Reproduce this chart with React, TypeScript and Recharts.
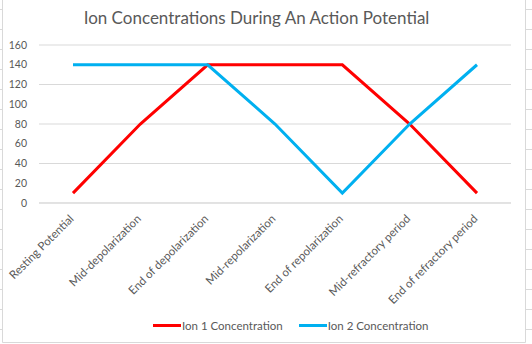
import { CartesianGrid, Legend, Line, LineChart, XAxis, YAxis } from "recharts";

const stages = [
  "Resting Potential",
  "Mid-depolarization",
  "End of depolarization",
  "Mid-repolarization",
  "End of repolarization",
  "Mid-refractory period",
  "End of refractory period",
];
const ion1 = [10, 80, 140, 140, 140, 80, 10];
const ion2 = [140, 140, 140, 80, 10, 80, 140];
const yTicks = [0, 20, 40, 60, 80, 100, 120, 140, 160];

const FONT = "Lato, 'Open Sans', sans-serif";
const TEXT = "#595959";
const RED = "#FF0000";
const BLUE = "#00B0F0";

const data = stages.map((s, i) => ({ stage: s, ion1: ion1[i], ion2: ion2[i] }));

function StageTick({ x, y, payload }: { x?: number; y?: number; payload?: { value: string } }) {
  return (
    <g transform={`translate(${x},${y})`}>
      <text
        x={0}
        y={0}
        dy={7}
        dx={-5}
        textAnchor="end"
        transform="rotate(-45)"
        fill={TEXT}
        fontSize={11.5}
        fontFamily={FONT}
      >
        {payload?.value}
      </text>
    </g>
  );
}

function LegendBox() {
  const item = (color: string, label: string, gap: number) => (
    <span style={{ display: "inline-flex", alignItems: "center", marginLeft: gap }}>
      <span style={{ display: "inline-block", width: 28, height: 3, background: color, marginRight: 1 }} />
      <span>{label}</span>
    </span>
  );
  return (
    <div
      style={{
        fontFamily: FONT,
        fontSize: 11.5,
        color: TEXT,
        paddingLeft: 144,
        lineHeight: "20px",
        whiteSpace: "nowrap",
      }}
    >
      {item(RED, "Ion 1 Concentration", 0)}
      {item(BLUE, "Ion 2 Concentration", 16)}
    </div>
  );
}

// spreadsheet cell edges visible around the chart object
function SheetEdges() {
  const rows = Array.from({ length: 17 }, (_, k) => 9.5 + 20 * k);
  return (
    <svg width={532} height={344} style={{ position: "absolute", left: 0, top: 0 }}>
      {rows.map((r) => (
        <g key={r} stroke="#d9d9d9">
          <line x1={0} x2={2.5} y1={r} y2={r} />
          <line x1={525.5} x2={532} y1={r} y2={r} />
        </g>
      ))}
      <line x1={2.5} x2={2.5} y1={0} y2={342.5} stroke="#d9d9d9" />
      <line x1={525.5} x2={525.5} y1={0} y2={342.5} stroke="#d9d9d9" />
      <line x1={2.5} x2={525.5} y1={342.5} y2={342.5} stroke="#d9d9d9" />
    </svg>
  );
}

export default function App() {
  return (
    <div style={{ position: "fixed", left: 0, top: 0, width: 532, height: 344, background: "#fff" }}>
      <SheetEdges />
      <div
        style={{
          position: "absolute",
          left: 0,
          top: 7,
          width: 513,
          textAlign: "center",
          fontFamily: FONT,
          fontSize: 17,
          color: TEXT,
        }}
      >
        Ion Concentrations During An Action Potential
      </div>
      <div style={{ position: "absolute", left: 0, top: 0 }}>
        <LineChart width={532} height={344} data={data} margin={{ top: 45, right: 21, bottom: 11, left: 9 }}>
          <CartesianGrid stroke="#d9d9d9" vertical={false} />
          <XAxis
            dataKey="stage"
            interval={0}
            height={110}
            padding={{ left: 34, right: 34 }}
            tickLine={false}
            axisLine={{ stroke: "#d9d9d9" }}
            tick={<StageTick />}
          />
          <YAxis
            width={30}
            domain={[0, 160]}
            ticks={yTicks}
            tickLine={false}
            tickSize={0}
            tickMargin={12}
            axisLine={false}
            tick={{ fill: TEXT, fontSize: 10.5, fontFamily: FONT }}
          />
          <Legend verticalAlign="bottom" height={20} content={<LegendBox />} />
          <Line dataKey="ion1" name="Ion 1 Concentration" stroke={RED} strokeWidth={3} dot={false} isAnimationActive={false} />
          <Line dataKey="ion2" name="Ion 2 Concentration" stroke={BLUE} strokeWidth={3} dot={false} isAnimationActive={false} />
        </LineChart>
      </div>
    </div>
  );
}
